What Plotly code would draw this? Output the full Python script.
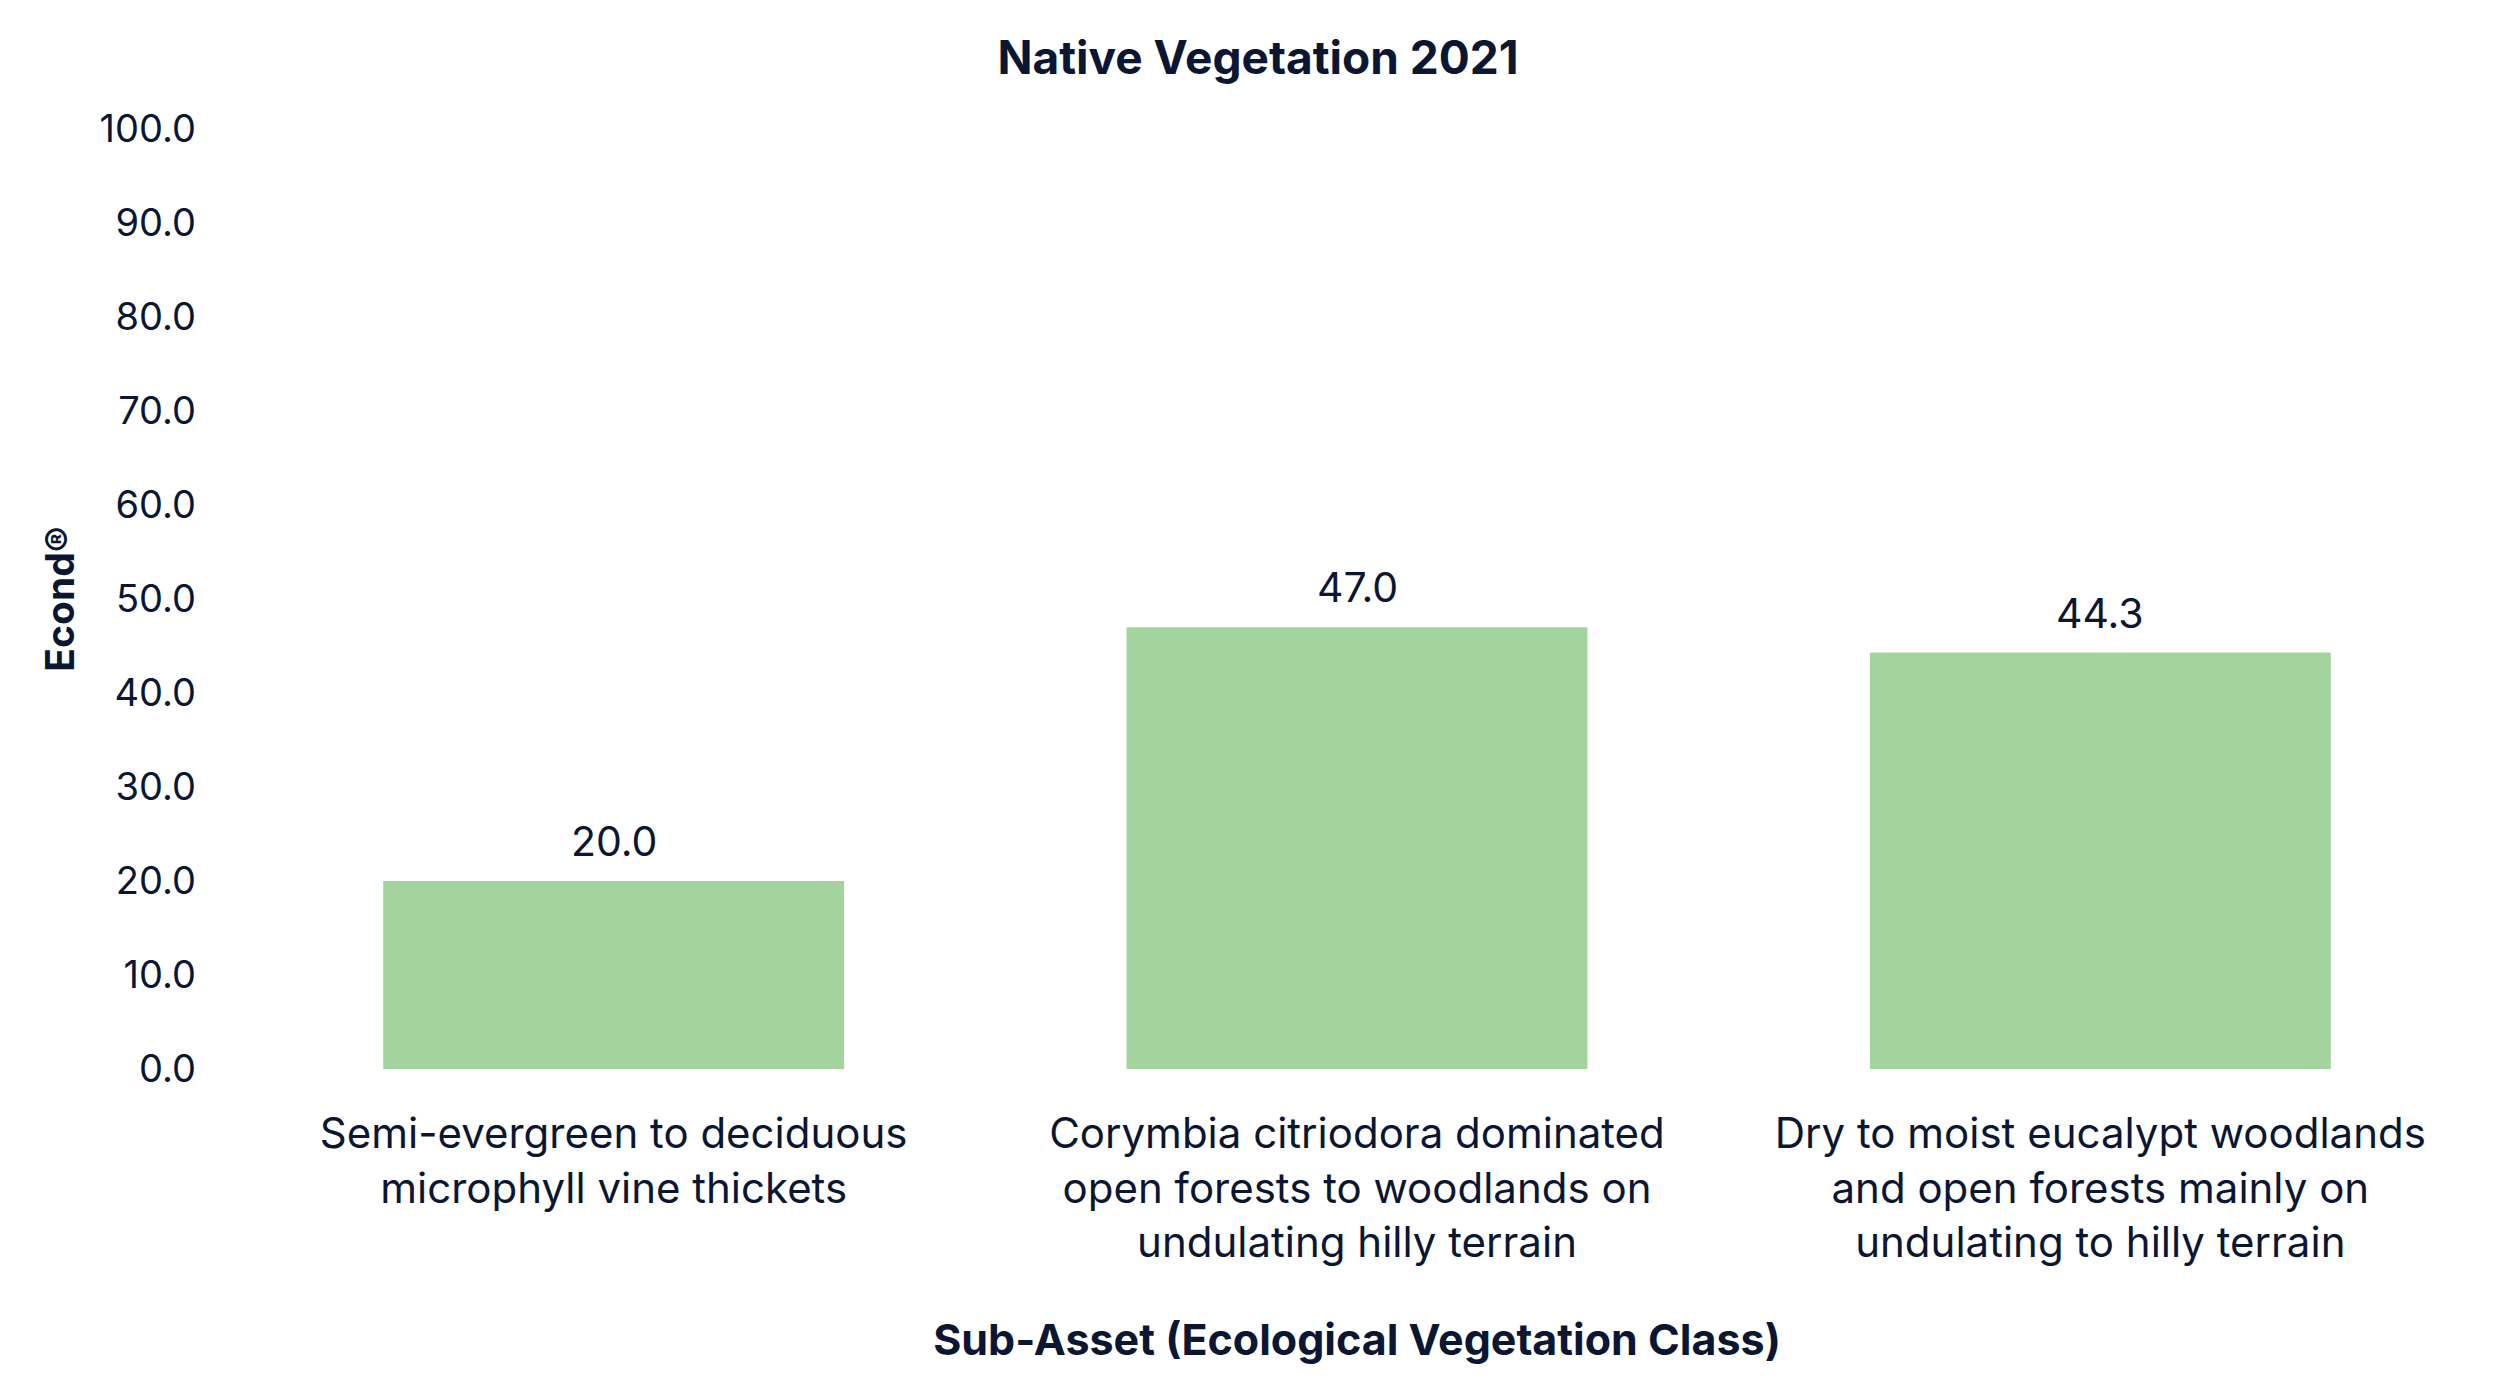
import plotly.graph_objects as go

categories = [
    "Semi-evergreen to deciduous<br>microphyll vine thickets",
    "Corymbia citriodora dominated<br>open forests to woodlands on<br>undulating hilly terrain",
    "Dry to moist eucalypt woodlands<br>and open forests mainly on<br>undulating to hilly terrain",
]
values = [20.0, 47.0, 44.3]
y_ticks = [0, 10, 20, 30, 40, 50, 60, 70, 80, 90, 100]

TEXT = "#0b1633"
FONT = "Inter"

fig = go.Figure(
    go.Bar(
        x=categories,
        y=values,
        marker=dict(color="#a4d49d", line=dict(width=0)),
        cliponaxis=False,
        hoverinfo="x+y",
    )
)

for cat, val in zip(categories, values):
    fig.add_annotation(
        x=cat,
        y=val,
        text=f"{val:.1f}",
        showarrow=False,
        yanchor="middle",
        yshift=40,
        font=dict(family=FONT, size=41, color=TEXT),
    )

fig.update_layout(
    width=2500,
    height=1379,
    margin=dict(l=234, r=36, t=121, b=318),
    paper_bgcolor="white",
    plot_bgcolor="white",
    bargap=0.38,
    showlegend=False,
    font=dict(family=FONT, color=TEXT, size=40),
    title=dict(
        text="<b>Native Vegetation 2021</b>",
        x=0.5,
        xanchor="center",
        y=1 - 50 / 1379,
        yanchor="middle",
        font=dict(family=FONT, size=46, color=TEXT),
    ),
    xaxis=dict(
        showgrid=False,
        showline=False,
        zeroline=False,
        ticks="",
        tickfont=dict(family=FONT, size=42, color=TEXT),
        ticklabelstandoff=36,
        title=dict(
            text="<b>Sub-Asset (Ecological Vegetation Class)</b>",
            font=dict(family=FONT, size=43, color=TEXT),
            standoff=58,
        ),
    ),
    yaxis=dict(
        range=[0, 100],
        tickvals=y_ticks,
        tickformat=".1f",
        showgrid=False,
        showline=False,
        zeroline=False,
        ticks="",
        tickfont=dict(family=FONT, size=38, color=TEXT),
        ticklabelstandoff=45,
        title=dict(
            text="<b>Econd®</b>",
            font=dict(family=FONT, size=39, color=TEXT),
            standoff=12,
        ),
    ),
)

fig.write_html("out.html")
